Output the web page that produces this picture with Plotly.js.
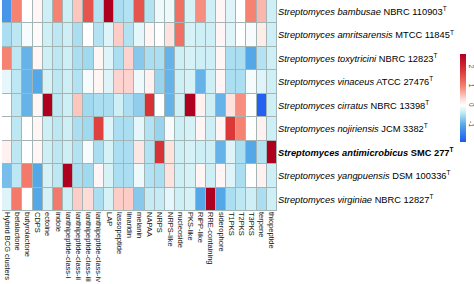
<!DOCTYPE html>
<html>
<head>
<meta charset="utf-8">
<script src="https://cdn.plot.ly/plotly-3.0.1.min.js"></script>
<style>html,body{margin:0;padding:0;background:#fff;}#chart{width:474px;height:284px;}</style>
</head>
<body>
<div id="chart"></div>
<script>
const clusters = ["Hybrid BCG clusters","betalactone","butyrolactone","CDPS","ectoine","indole",
  "lanthipeptide-class-i","lanthipeptide-class-ii","lanthipeptide-class-iii","lanthipeptide-class-iv",
  "LAP","lassopeptide","linaridin","melanin","NAPAA","NRPS","NRPS-like","nucleoside","PKS-like",
  "RiPP-like","RRE-containing","siderophore","T1PKS","T2PKS","T3PKS","terpene","thiopeptide"];

const strains = [
  "<i>Streptomyces bambusae</i> NBRC 110903<sup>T</sup>",
  "<i>Streptomyces amritsarensis</i> MTCC 11845<sup>T</sup>",
  "<i>Streptomyces toxytricini</i> NBRC 12823<sup>T</sup>",
  "<i>Streptomyces vinaceus</i> ATCC 27476<sup>T</sup>",
  "<i>Streptomyces cirratus</i> NBRC 13398<sup>T</sup>",
  "<i>Streptomyces nojiriensis</i> JCM 3382<sup>T</sup>",
  "<b><i>Streptomyces antimicrobicus</i> SMC 277<sup>T</sup></b>",
  "<i>Streptomyces yangpuensis</i> DSM 100336<sup>T</sup>",
  "<i>Streptomyces virginiae</i> NBRC 12827<sup>T</sup>"
];

const bambusae       = [-1.2, 1.0, 0, 0.1, -0.3, 1.0, -0.3, 0.5, 1.5, -0.45, 2.7, -0.5, -0.45, 1.5, -0.45, -0.1, -0.1, 1.2, -0.25, 0.9, -0.3, 0.1, -0.2, 0, 1.0, 0.6, -0.3];
const amritsarensis  = [-0.5, -0.4, -0.05, 0.05, -0.3, -0.4, -0.3, -0.5, 0, -0.45, -0.2, 0.45, -0.45, -0.15, 0.1, 0, 0.3, 1.2, -0.25, -0.3, -0.3, 0.1, -0.2, 0, -0.05, 0.2, -0.3];
const toxytricini    = [1.0, -0.4, -0.9, 0.1, -0.3, -0.4, -0.3, -0.5, -0.55, 0.1, -0.2, -0.5, 0.4, -0.7, -0.5, -0.5, -0.9, -0.3, -0.25, -0.3, -0.3, 0.1, -0.5, -0.5, -1.0, -0.45, -0.3];
const vinaceus       = [-0.15, -0.4, -0.9, -1.0, -0.25, -0.4, -0.3, -0.45, -0.05, 0.1, -0.2, 0.4, 0.4, -0.1, 0.15, -0.6, -0.9, -0.3, -0.25, -0.9, -0.3, 0.1, -0.5, -0.5, -0.05, -0.2, -0.3];
const cirratus       = [0, -0.4, -0.9, 0.1, 2.7, -0.4, -0.3, 0.5, -0.55, -0.5, -0.5, -0.3, -0.5, -0.65, 1.9, 0, -0.9, -0.3, 2.7, 0.15, -0.3, -0.9, 0.3, 0.9, 0, -1.8, -0.3];
const nojiriensis    = [0, -0.4, 0, 0.1, -0.3, -0.4, -0.3, -0.5, -0.55, 1.7, -0.2, -0.5, -0.5, -0.15, -0.45, -0.6, -0.05, -0.3, -0.25, 0.1, -0.3, 0.1, 1.8, 1.0, 0, 0.15, -0.3];
const antimicrobicus = [0.15, -0.4, 0, 0.1, -0.3, -0.4, -0.3, -0.45, -0.05, -0.5, -0.25, -0.5, -0.5, 0.25, -0.45, 1.9, 0.3, -0.3, -0.25, -0.3, -0.3, -0.9, -0.2, -0.5, -1.0, -0.45, 2.7];
const yangpuensis    = [-0.8, -0.4, 1.1, -1.0, -0.25, -0.4, 2.7, -0.5, -0.55, 0.1, -0.25, -0.5, -0.5, -0.1, -0.45, -0.5, 0.3, -0.3, -0.25, 0.1, -0.3, 0.1, -0.2, -0.5, 0, 0.15, -0.3];
const virginiae      = [-0.2, 1.1, 0, -1.0, -0.25, 1.1, -0.3, 0.45, 0.35, -0.5, -0.25, 0.45, 0.45, -0.7, -0.35, -0.35, -0.15, -0.3, -0.25, -1.0, 2.7, -1.0, -0.5, -0.4, -0.3, -0.5, -0.3];

const colorbarTicks = [-1, 0, 1, 2];

const z = [bambusae, amritsarensis, toxytricini, vinaceus, cirratus, nojiriensis, antimicrobicus, yangpuensis, virginiae];

const zmin = -1.9, zmax = 2.7;
function n(v){ return (v - zmin) / (zmax - zmin); }
const colorscale = [
  [0, '#1c58f2'],
  [n(-1.0), '#55a8e8'],
  [n(-0.5), '#aadef0'],
  [n(-0.3), '#cfeff6'],
  [n(-0.1), '#edf9fb'],
  [n(0), '#ffffff'],
  [n(0.3), '#fde2de'],
  [n(0.6), '#fbb6ad'],
  [n(1.0), '#f68272'],
  [n(1.8), '#dc3838'],
  [1, '#b00020']
];

const trace = {
  type: 'heatmap',
  x: clusters,
  y: strains,
  z: z,
  zmin: zmin, zmax: zmax,
  colorscale: colorscale,
  xgap: 1, ygap: 1,
  hoverinfo: 'skip',
  colorbar: {
    xref: 'container', yref: 'container',
    x: 460/474, xanchor: 'left',
    y: 1 - 132/284, yanchor: 'middle',
    lenmode: 'pixels', len: 88,
    thickness: 6, thicknessmode: 'pixels',
    outlinewidth: 0, xpad: 0, ypad: 0,
    tickvals: colorbarTicks, ticktext: colorbarTicks.map(String),
    ticks: '', tickangle: 90,
    tickfont: {family: 'Liberation Sans, Arial, sans-serif', size: 6.5, color: '#444'}
  }
};

const layout = {
  width: 474, height: 284,
  margin: {l: 1.5, r: 197, t: 0, b: 73, pad: 0},
  paper_bgcolor: '#ffffff',
  plot_bgcolor: '#a3b5b5',
  font: {family: 'Liberation Sans, Arial, sans-serif', color: '#000'},
  xaxis: {
    type: 'category', tickangle: 90, ticks: '', showgrid: false, zeroline: false,
    tickfont: {size: 7.5, color: '#111'}, automargin: false, showline: false
  },
  yaxis: {
    type: 'category', side: 'right', autorange: 'reversed', ticks: '', showgrid: false,
    zeroline: false, tickfont: {size: 9.3, color: '#000'}, automargin: false, showline: false
  }
};

Plotly.newPlot('chart', [trace], layout, {displayModeBar: false, staticPlot: true});
</script>
</body>
</html>
